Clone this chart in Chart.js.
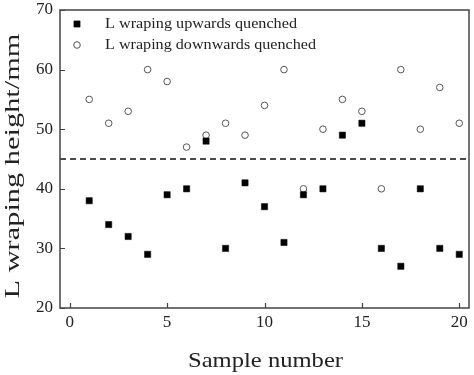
<!DOCTYPE html>
<html>
<head>
<meta charset="utf-8">
<script src="https://cdn.jsdelivr.net/npm/chart.js@4/dist/chart.umd.min.js"></script>
<style>
  html, body { margin: 0; padding: 0; background: #fff; }
  #wrap { width: 474px; height: 375px; }
</style>
</head>
<body>
<div id="wrap"><canvas id="myChart"></canvas></div>
<script>
// data
const samples = [1, 2, 3, 4, 5, 6, 7, 8, 9, 10, 11, 12, 13, 14, 15, 16, 17, 18, 19, 20];
const upwards = [38, 34, 32, 29, 39, 40, 48, 30, 41, 37, 31, 39, 40, 49, 51, 30, 27, 40, 30, 29];
const downwards = [55, 51, 53, 60, 58, 47, 49, 51, 49, 54, 60, 40, 50, 55, 53, 40, 60, 50, 57, 51];
const threshold = 45;
const xTicks = [0, 5, 10, 15, 20];
const yTicks = [20, 30, 40, 50, 60, 70];
const xTitle = "Sample number";
const yTitle = "L wraping height/mm";

const serif = "'Liberation Serif', 'Times New Roman', serif";
const axisColor = "#444";
const textColor = "#222";

const toPoints = (ys) => samples.map((x, i) => ({ x: x, y: ys[i] }));

// the source figure's text is a bit wider than the font, so stretch it
function stretchedText(ctx, text, x, y, width) {
  const w = ctx.measureText(text).width;
  ctx.save();
  ctx.translate(x, y);
  ctx.scale(width / w, 1);
  ctx.fillText(text, 0, 0);
  ctx.restore();
}

// frame, inward ticks, dashed reference line, legend, axis titles
const extras = {
  id: "extras",
  afterDatasetsDraw(chart) {
    const { ctx, chartArea: a, scales } = chart;
    const xs = scales.x, ys = scales.y;
    ctx.save();

    // dashed line
    const yy = ys.getPixelForValue(threshold);
    ctx.strokeStyle = "#111";
    ctx.lineWidth = 1.3;
    ctx.setLineDash([6, 4]);
    ctx.beginPath();
    ctx.moveTo(a.left, yy);
    ctx.lineTo(a.right, yy);
    ctx.stroke();
    ctx.setLineDash([]);

    // frame
    ctx.strokeStyle = axisColor;
    ctx.lineWidth = 1.5;
    ctx.strokeRect(a.left, a.top, a.right - a.left, a.bottom - a.top);

    // inward ticks
    ctx.lineWidth = 1.2;
    ctx.beginPath();
    xTicks.forEach((v) => {
      const px = Math.round(xs.getPixelForValue(v)) + 0.5;
      ctx.moveTo(px, a.bottom);
      ctx.lineTo(px, a.bottom - 5);
    });
    yTicks.forEach((v) => {
      const py = Math.round(ys.getPixelForValue(v)) + 0.5;
      ctx.moveTo(a.left, py);
      ctx.lineTo(a.left + 5, py);
    });
    ctx.stroke();

    // legend
    const items = [
      { ds: chart.data.datasets[0], w: 192 },
      { ds: chart.data.datasets[1], w: 211 },
    ];
    ctx.font = "14px " + serif;
    ctx.textBaseline = "middle";
    ctx.textAlign = "left";
    items.forEach((it, i) => {
      const mx = a.left + 17, my = a.top + 14 + i * 21;
      ctx.save();
      ctx.fillStyle = it.ds.backgroundColor;
      ctx.strokeStyle = it.ds.borderColor;
      ctx.lineWidth = it.ds.borderWidth;
      Chart.helpers.drawPoint(ctx, {
        pointStyle: it.ds.pointStyle,
        radius: it.ds.pointRadius,
        borderWidth: it.ds.borderWidth,
      }, mx, my);
      ctx.restore();
      ctx.fillStyle = textColor;
      stretchedText(ctx, it.ds.label, a.left + 45, my, it.w);
    });

    // axis titles
    ctx.fillStyle = textColor;
    ctx.textAlign = "center";
    ctx.textBaseline = "alphabetic";
    ctx.font = "22px " + serif;
    stretchedText(ctx, xTitle, 265.5, 367, 155);

    ctx.font = "21px " + serif;
    ctx.save();
    ctx.translate(18.5, 166);
    ctx.rotate(-Math.PI / 2);
    stretchedText(ctx, yTitle, 0, 0, 265);
    ctx.restore();

    ctx.restore();
  },
};

const ctx = document.getElementById("myChart").getContext("2d");
const myChart = new Chart(ctx, {
  type: "scatter",
  data: {
    datasets: [
      {
        label: "L wraping upwards quenched",
        data: toPoints(upwards),
        pointStyle: "rect",
        pointRadius: 4.4,
        backgroundColor: "#000",
        borderColor: "#000",
        borderWidth: 0.5,
      },
      {
        label: "L wraping downwards quenched",
        data: toPoints(downwards),
        pointStyle: "circle",
        pointRadius: 3.3,
        backgroundColor: "#fff",
        borderColor: "#555",
        borderWidth: 1,
      },
    ],
  },
  options: {
    responsive: true,
    maintainAspectRatio: false,
    animation: false,
    layout: { padding: { top: 10, right: 4, left: 0, bottom: 0 } },
    plugins: {
      legend: { display: false },
      tooltip: { enabled: false },
    },
    scales: {
      x: {
        type: "linear",
        min: -0.5,
        max: 20.5,
        afterBuildTicks: (s) => { s.ticks = xTicks.map((v) => ({ value: v })); },
        afterFit: (s) => { s.height = 67; s.paddingLeft = 0; s.paddingRight = 0; },
        grid: { display: false, drawTicks: false },
        border: { display: false },
        ticks: { color: textColor, padding: 4, font: { family: serif, size: 17 } },
      },
      y: {
        min: 20,
        max: 70,
        afterBuildTicks: (s) => { s.ticks = yTicks.map((v) => ({ value: v })); },
        afterFit: (s) => { s.width = 60; s.paddingTop = 0; s.paddingBottom = 0; },
        grid: { display: false, drawTicks: false },
        border: { display: false },
        ticks: { color: textColor, padding: 7, font: { family: serif, size: 17 } },
      },
    },
  },
  plugins: [extras],
});
</script>
</body>
</html>
